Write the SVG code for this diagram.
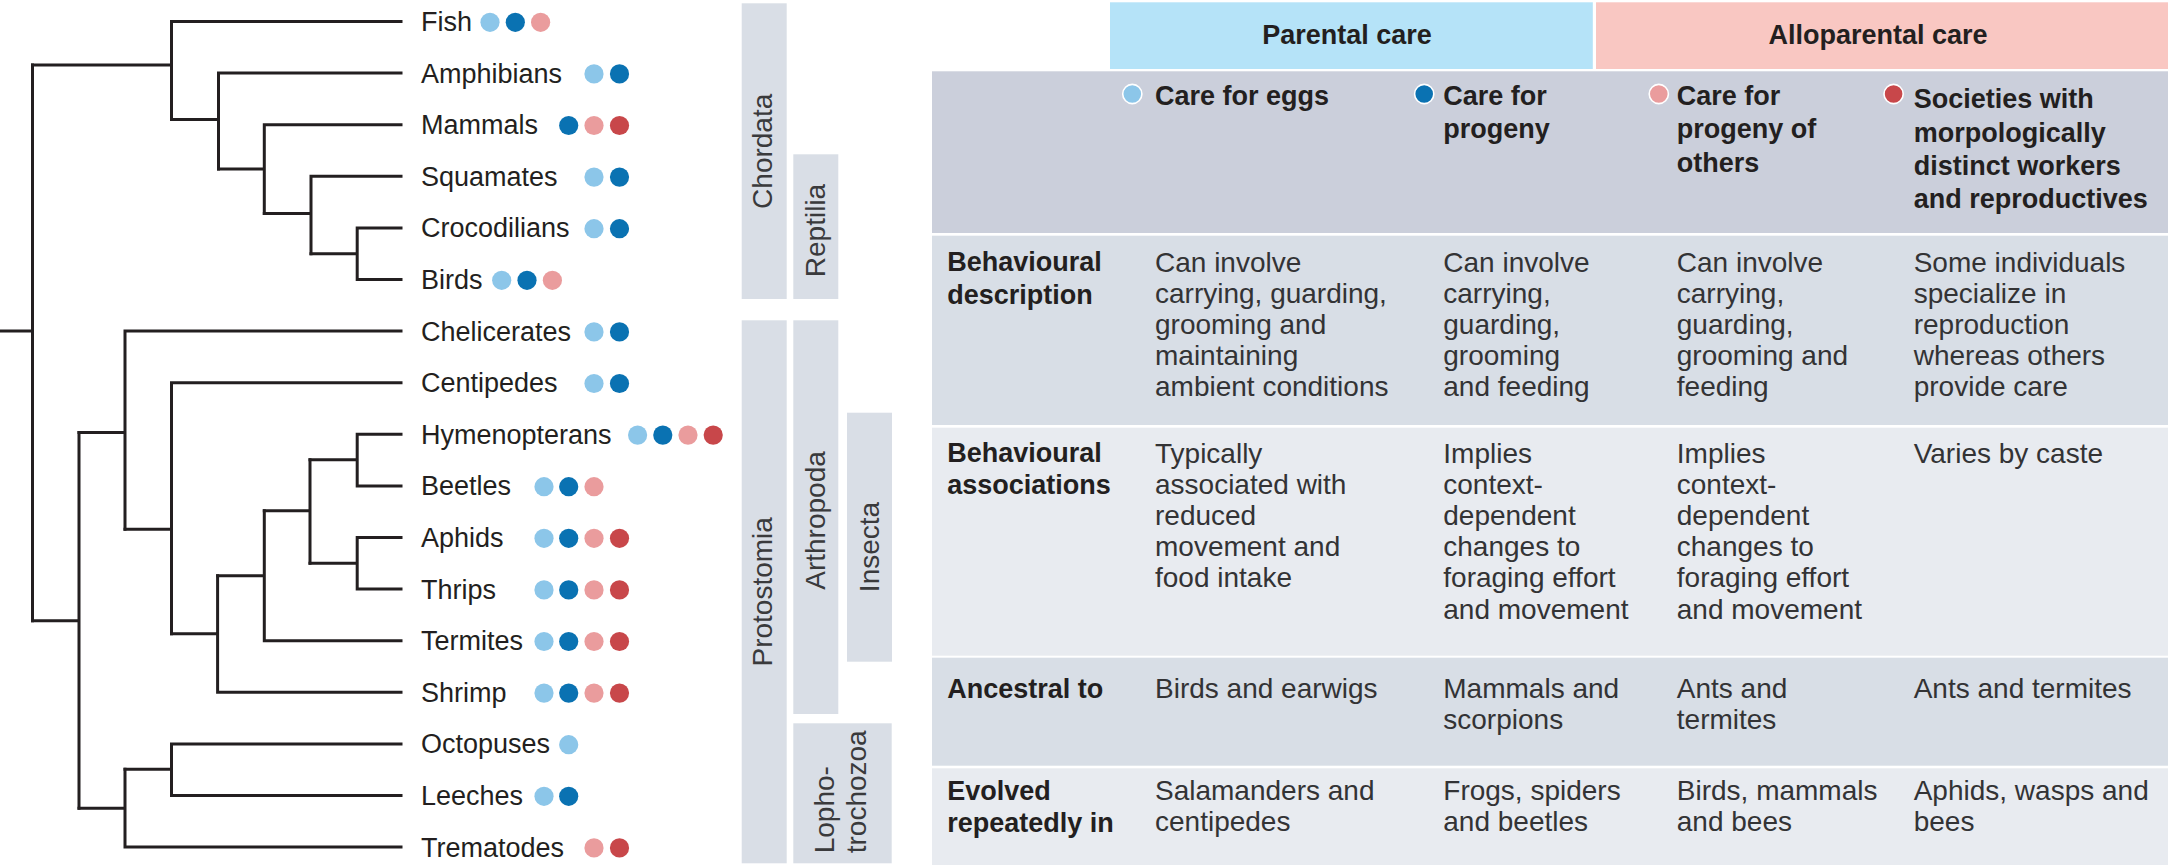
<svg xmlns="http://www.w3.org/2000/svg" width="2170" height="868" viewBox="0 0 2170 868">
<style>
.edge{fill:none;stroke:#231f20;stroke-width:3;stroke-linecap:square}
.lbl{font-family:"Liberation Sans",Arial,sans-serif;font-size:27px;fill:#231f20}
.d1{fill:#8cc6e9}.d2{fill:#0a72b2}.d3{fill:#ea9c9d}.d4{fill:#c8474a}
.bar{fill:#d9dee6}
.tax{font-family:"Liberation Sans",Arial,sans-serif;font-size:28px;fill:#3a3a3c}
.hb{font-family:"Liberation Sans",Arial,sans-serif;font-size:27px;font-weight:bold;fill:#231f20}
.bt{font-family:"Liberation Sans",Arial,sans-serif;font-size:28px;fill:#333335}
.hdot{stroke:#ffffff;stroke-width:1.6}
</style>
<rect width="2170" height="868" fill="#ffffff"/>

<g id="connectors">
<path class="edge" d="M0,331 H32.5 M32.5,65 V620.7"/>
<path class="edge" d="M32.5,65 H171.5 M171.5,21.5 V119.5 M171.5,21.5 H401"/>
<path class="edge" d="M171.5,119.5 H218.5 M218.5,73.1 V169 M218.5,73.1 H401"/>
<path class="edge" d="M218.5,169 H264.3 M264.3,124.7 V213.5 M264.3,124.7 H401"/>
<path class="edge" d="M264.3,213.5 H311 M311,176.3 V253.7 M311,176.3 H401"/>
<path class="edge" d="M311,253.7 H357.2 M357.2,227.9 V279.5 M357.2,227.9 H401 M357.2,279.5 H401"/>
<path class="edge" d="M32.5,620.7 H79 M79,432.5 V808.3"/>
<path class="edge" d="M79,432.5 H125 M125,331.1 V529.3 M125,331.1 H401"/>
<path class="edge" d="M125,529.3 H171.5 M171.5,382.7 V633.7 M171.5,382.7 H401"/>
<path class="edge" d="M171.5,633.7 H217.6 M217.6,575.7 V692.3 M217.6,692.3 H401"/>
<path class="edge" d="M217.6,575.7 H264.3 M264.3,510.7 V640.7 M264.3,640.7 H401"/>
<path class="edge" d="M264.3,510.7 H310 M310,459.7 V563.3"/>
<path class="edge" d="M310,459.7 H357.2 M357.2,434.3 V485.9 M357.2,434.3 H401 M357.2,485.9 H401"/>
<path class="edge" d="M310,563.3 H357.2 M357.2,537.5 V589.1 M357.2,537.5 H401 M357.2,589.1 H401"/>
<path class="edge" d="M79,808.3 H125 M125,769.3 V847.1 M125,847.1 H401"/>
<path class="edge" d="M125,769.3 H171.5 M171.5,743.9 V795.5 M171.5,743.9 H401 M171.5,795.5 H401"/>
</g>

<g id="fish"><text class="lbl" x="421" y="31">Fish</text><circle class="d1" cx="490" cy="22.3" r="9.6"/><circle class="d2" cx="515.3" cy="22.3" r="9.6"/><circle class="d3" cx="540.6" cy="22.3" r="9.6"/></g>
<g id="amphibians"><text class="lbl" x="421" y="82.6">Amphibians</text><circle class="d1" cx="594" cy="73.9" r="9.6"/><circle class="d2" cx="619.5" cy="73.9" r="9.6"/></g>
<g id="mammals"><text class="lbl" x="421" y="134.2">Mammals</text><circle class="d2" cx="568.7" cy="125.5" r="9.6"/><circle class="d3" cx="594" cy="125.5" r="9.6"/><circle class="d4" cx="619.5" cy="125.5" r="9.6"/></g>
<g id="squamates"><text class="lbl" x="421" y="185.8">Squamates</text><circle class="d1" cx="594" cy="177.1" r="9.6"/><circle class="d2" cx="619.5" cy="177.1" r="9.6"/></g>
<g id="crocodilians"><text class="lbl" x="421" y="237.4">Crocodilians</text><circle class="d1" cx="594" cy="228.7" r="9.6"/><circle class="d2" cx="619.5" cy="228.7" r="9.6"/></g>
<g id="birds"><text class="lbl" x="421" y="289">Birds</text><circle class="d1" cx="501.7" cy="280.3" r="9.6"/><circle class="d2" cx="527" cy="280.3" r="9.6"/><circle class="d3" cx="552.4" cy="280.3" r="9.6"/></g>
<g id="chelicerates"><text class="lbl" x="421" y="340.6">Chelicerates</text><circle class="d1" cx="594" cy="331.9" r="9.6"/><circle class="d2" cx="619.5" cy="331.9" r="9.6"/></g>
<g id="centipedes"><text class="lbl" x="421" y="392.2">Centipedes</text><circle class="d1" cx="594" cy="383.5" r="9.6"/><circle class="d2" cx="619.5" cy="383.5" r="9.6"/></g>
<g id="hymenopterans"><text class="lbl" x="421" y="443.8">Hymenopterans</text><circle class="d1" cx="637.6" cy="435.1" r="9.6"/><circle class="d2" cx="662.8" cy="435.1" r="9.6"/><circle class="d3" cx="688" cy="435.1" r="9.6"/><circle class="d4" cx="713.2" cy="435.1" r="9.6"/></g>
<g id="beetles"><text class="lbl" x="421" y="495.4">Beetles</text><circle class="d1" cx="544" cy="486.7" r="9.6"/><circle class="d2" cx="568.7" cy="486.7" r="9.6"/><circle class="d3" cx="594" cy="486.7" r="9.6"/></g>
<g id="aphids"><text class="lbl" x="421" y="547">Aphids</text><circle class="d1" cx="544" cy="538.3" r="9.6"/><circle class="d2" cx="568.7" cy="538.3" r="9.6"/><circle class="d3" cx="594" cy="538.3" r="9.6"/><circle class="d4" cx="619.5" cy="538.3" r="9.6"/></g>
<g id="thrips"><text class="lbl" x="421" y="598.6">Thrips</text><circle class="d1" cx="544" cy="589.9" r="9.6"/><circle class="d2" cx="568.7" cy="589.9" r="9.6"/><circle class="d3" cx="594" cy="589.9" r="9.6"/><circle class="d4" cx="619.5" cy="589.9" r="9.6"/></g>
<g id="termites"><text class="lbl" x="421" y="650.2">Termites</text><circle class="d1" cx="544" cy="641.5" r="9.6"/><circle class="d2" cx="568.7" cy="641.5" r="9.6"/><circle class="d3" cx="594" cy="641.5" r="9.6"/><circle class="d4" cx="619.5" cy="641.5" r="9.6"/></g>
<g id="shrimp"><text class="lbl" x="421" y="701.8">Shrimp</text><circle class="d1" cx="544" cy="693.1" r="9.6"/><circle class="d2" cx="568.7" cy="693.1" r="9.6"/><circle class="d3" cx="594" cy="693.1" r="9.6"/><circle class="d4" cx="619.5" cy="693.1" r="9.6"/></g>
<g id="octopuses"><text class="lbl" x="421" y="753.4">Octopuses</text><circle class="d1" cx="568.7" cy="744.7" r="9.6"/></g>
<g id="leeches"><text class="lbl" x="421" y="805">Leeches</text><circle class="d1" cx="544" cy="796.3" r="9.6"/><circle class="d2" cx="568.7" cy="796.3" r="9.6"/></g>
<g id="trematodes"><text class="lbl" x="421" y="856.6">Trematodes</text><circle class="d3" cx="594" cy="847.9" r="9.6"/><circle class="d4" cx="619.5" cy="847.9" r="9.6"/></g>

<g id="chordata"><rect class="bar" x="741.7" y="3.3" width="45" height="295.7"/><text class="tax" transform="translate(772,151.3) rotate(-90)" text-anchor="middle">Chordata</text></g>
<g id="reptilia"><rect class="bar" x="793.3" y="154.3" width="45" height="144.7"/><text class="tax" transform="translate(825,230.5) rotate(-90)" text-anchor="middle">Reptilia</text></g>
<g id="protostomia"><rect class="bar" x="741.7" y="320.3" width="45" height="543"/><text class="tax" transform="translate(772,591.8) rotate(-90)" text-anchor="middle">Protostomia</text></g>
<g id="arthropoda"><rect class="bar" x="793.3" y="320.3" width="45" height="393.7"/><text class="tax" transform="translate(825,520.5) rotate(-90)" text-anchor="middle">Arthropoda</text></g>
<g id="insecta"><rect class="bar" x="847" y="412.7" width="45" height="249"/><text class="tax" transform="translate(879,547) rotate(-90)" text-anchor="middle">Insecta</text></g>
<g id="lophotrochozoa"><rect class="bar" x="793.3" y="723.3" width="98.4" height="140"/><text class="tax" transform="translate(834,853.3) rotate(-90)">Lopho-</text><text class="tax" transform="translate(866,853.3) rotate(-90)">trochozoa</text></g>

<g id="header-parental"><rect x="1110" y="2.3" width="482.8" height="66.7" fill="#b5e3f8"/><text class="hb" x="1347" y="44" text-anchor="middle">Parental care</text></g>
<g id="header-alloparental"><rect x="1596" y="2.3" width="572" height="66.7" fill="#f9c7c2"/><text class="hb" x="1878" y="44" text-anchor="middle">Alloparental care</text></g>

<g id="row-header">
<rect x="932" y="71.3" width="1236" height="161.7" fill="#cbcfdb"/>
<circle class="d1 hdot" cx="1132.3" cy="94" r="9.6"/>
<text class="hb" x="1155" y="105">Care for eggs</text>
<circle class="d2 hdot" cx="1424.2" cy="94" r="9.6"/>
<text class="hb" x="1443.3" y="105">Care for<tspan x="1443.3" dy="33.3">progeny</tspan></text>
<circle class="d3 hdot" cx="1658.8" cy="94" r="9.6"/>
<text class="hb" x="1676.8" y="105">Care for<tspan x="1676.8" dy="33.3">progeny of</tspan><tspan x="1676.8" dy="33.3">others</tspan></text>
<circle class="d4 hdot" cx="1893.6" cy="94" r="9.6"/>
<text class="hb" x="1913.7" y="108.3">Societies with<tspan x="1913.7" dy="33.3">morpologically</tspan><tspan x="1913.7" dy="33.3">distinct workers</tspan><tspan x="1913.7" dy="33.3">and reproductives</tspan></text>
</g>

<g id="row-description">
<rect x="932" y="235.7" width="1236" height="189.3" fill="#d8dee6"/>
<text class="hb" x="947.3" y="271">Behavioural<tspan x="947.3" dy="33">description</tspan></text>
<text class="bt" x="1155" y="271.5">Can involve<tspan x="1155" dy="31">carrying, guarding,</tspan><tspan x="1155" dy="31">grooming and</tspan><tspan x="1155" dy="31">maintaining</tspan><tspan x="1155" dy="31">ambient conditions</tspan></text>
<text class="bt" x="1443.3" y="271.5">Can involve<tspan x="1443.3" dy="31">carrying,</tspan><tspan x="1443.3" dy="31">guarding,</tspan><tspan x="1443.3" dy="31">grooming</tspan><tspan x="1443.3" dy="31">and feeding</tspan></text>
<text class="bt" x="1676.8" y="271.5">Can involve<tspan x="1676.8" dy="31">carrying,</tspan><tspan x="1676.8" dy="31">guarding,</tspan><tspan x="1676.8" dy="31">grooming and</tspan><tspan x="1676.8" dy="31">feeding</tspan></text>
<text class="bt" x="1913.7" y="271.5">Some individuals<tspan x="1913.7" dy="31">specialize in</tspan><tspan x="1913.7" dy="31">reproduction</tspan><tspan x="1913.7" dy="31">whereas others</tspan><tspan x="1913.7" dy="31">provide care</tspan></text>
</g>

<g id="row-associations">
<rect x="932" y="427.7" width="1236" height="228" fill="#e8ebf0"/>
<text class="hb" x="947.3" y="462">Behavioural<tspan x="947.3" dy="32.3">associations</tspan></text>
<text class="bt" x="1155" y="462.5">Typically<tspan x="1155" dy="31.2">associated with</tspan><tspan x="1155" dy="31.2">reduced</tspan><tspan x="1155" dy="31.2">movement and</tspan><tspan x="1155" dy="31.2">food intake</tspan></text>
<text class="bt" x="1443.3" y="462.5">Implies<tspan x="1443.3" dy="31.2">context-</tspan><tspan x="1443.3" dy="31.2">dependent</tspan><tspan x="1443.3" dy="31.2">changes to</tspan><tspan x="1443.3" dy="31.2">foraging effort</tspan><tspan x="1443.3" dy="31.2">and movement</tspan></text>
<text class="bt" x="1676.8" y="462.5">Implies<tspan x="1676.8" dy="31.2">context-</tspan><tspan x="1676.8" dy="31.2">dependent</tspan><tspan x="1676.8" dy="31.2">changes to</tspan><tspan x="1676.8" dy="31.2">foraging effort</tspan><tspan x="1676.8" dy="31.2">and movement</tspan></text>
<text class="bt" x="1913.7" y="462.5">Varies by caste</text>
</g>

<g id="row-ancestral">
<rect x="932" y="657.7" width="1236" height="108" fill="#d8dee6"/>
<text class="hb" x="947.3" y="698">Ancestral to</text>
<text class="bt" x="1155" y="698">Birds and earwigs</text>
<text class="bt" x="1443.3" y="698">Mammals and<tspan x="1443.3" dy="31">scorpions</tspan></text>
<text class="bt" x="1676.8" y="698">Ants and<tspan x="1676.8" dy="31">termites</tspan></text>
<text class="bt" x="1913.7" y="698">Ants and termites</text>
</g>

<g id="row-evolved">
<rect x="932" y="768.3" width="1236" height="96.7" fill="#e8ebf0"/>
<text class="hb" x="947.3" y="800">Evolved<tspan x="947.3" dy="32">repeatedly in</tspan></text>
<text class="bt" x="1155" y="800">Salamanders and<tspan x="1155" dy="31">centipedes</tspan></text>
<text class="bt" x="1443.3" y="800">Frogs, spiders<tspan x="1443.3" dy="31">and beetles</tspan></text>
<text class="bt" x="1676.8" y="800">Birds, mammals<tspan x="1676.8" dy="31">and bees</tspan></text>
<text class="bt" x="1913.7" y="800">Aphids, wasps and<tspan x="1913.7" dy="31">bees</tspan></text>
</g>
</svg>
